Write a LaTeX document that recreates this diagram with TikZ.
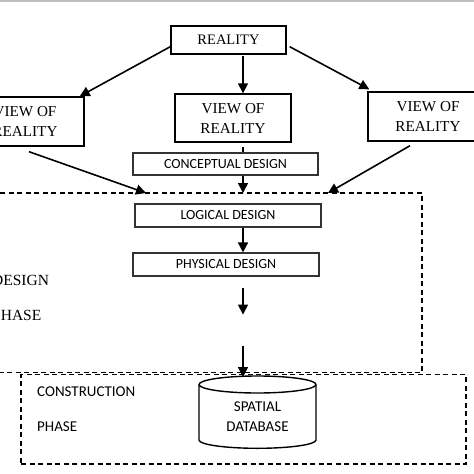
\documentclass[tikz,border=0pt]{standalone}
\usepackage{fontspec}
\setmainfont{Liberation Serif}
\newfontfamily\sansf{Carlito}
\usetikzlibrary{arrows.meta,calc}
\begin{document}
\begin{tikzpicture}[x=1pt,y=-1pt,
  box/.style={draw,line width=1.4pt,inner sep=0pt},
  serifbox/.style={box,font=\fontsize{15.2}{20}\selectfont,align=center},
  sansbox/.style={draw=black!80,line width=1.1pt,inner sep=0pt,font=\sansf\fontsize{14}{16}\selectfont},
  dashbox/.style={draw,line width=1.3pt,dash pattern=on 5pt off 3.5pt,inner sep=0pt,outer sep=0pt},
  arr/.style={line width=1.6pt,-{Triangle[length=10pt,width=10pt]}},
  plainline/.style={line width=1.6pt},
  serlabel/.style={font=\fontsize{15.5}{18}\selectfont,anchor=west,inner sep=0pt},
  sanslabel/.style={font=\sansf\fontsize{15}{20}\selectfont,inner sep=0pt}]
\useasboundingbox (0,0) rectangle (474,474);
\clip (0,0) rectangle (474,474);
\fill[black!25] (0,0) rectangle (474,1.8);

% boxes
\node[box,font=\fontsize{14.5}{18}\selectfont,minimum width=115pt,minimum height=28pt,text depth=-1pt] (reality) at (228.5,40) {REALITY};
\node[serifbox,minimum width=118pt,minimum height=49pt] (lview) at (25,121.5) {VIEW OF\\REALITY};
\node[serifbox,minimum width=116pt,minimum height=48pt] (cview) at (233,118) {VIEW OF\\REALITY};
\node[serifbox,minimum width=120pt,minimum height=49pt] (rview) at (428,116.5) {VIEW OF\\REALITY};
\node[sansbox,minimum width=185pt,minimum height=22pt] (concept) at (225.5,164) {CONCEPTUAL DESIGN};
\node[sansbox,minimum width=186pt,minimum height=23pt] (logical) at (228,215.5) {LOGICAL DESIGN};
\node[sansbox,minimum width=186pt,minimum height=23pt] (physical) at (226,264.5) {PHYSICAL DESIGN};

% phase boxes
\node[dashbox,minimum width=432pt,minimum height=179.5pt] (design) at (206,282.75) {};
\node[dashbox,minimum width=445pt,minimum height=89.5pt] (construct) at (243.5,419.25) {};

% cylinder
\draw[line width=1.4pt] (199,384.5) -- (199,440)
  arc[start angle=180,end angle=0,x radius=58.5,y radius=8.3] -- (316,384.5)
  arc[start angle=0,end angle=-180,x radius=58.5,y radius=8.5] -- cycle;
\draw[line width=1.4pt] (199,384.5) arc[start angle=180,end angle=0,x radius=58.5,y radius=8.5];
\node[sanslabel,align=center] (db) at (257.5,417) {SPATIAL\\DATABASE};

% labels
\node[serlabel] (dlab) at (-8,280) {DESIGN};
\node[serlabel] (plab) at (-8,315) {PHASE};
\node[sanslabel,anchor=west] (clab) at (37,392) {CONSTRUCTION};
\node[sanslabel,anchor=west] (cplab) at (37,427) {PHASE};

% connectors
\draw[arr] ($(reality.south west)+(0,-8)$) -- ($(lview.north east)+(-5,0)$);
\draw[arr] ($(reality.south)+(14.5,1)$) -- ($(cview.north)+(10,0)$);
\draw[arr] ($(reality.south east)+(3,-8)$) -- ($(rview.north west)+(2,-2)$);
\draw[arr] ($(lview.south)+(4,5)$) -- ($(design.north west)+(156,0)$);
\draw[plainline] ($(cview.south)+(10,4)$) -- ($(concept.north)+(17.5,0)$);
\draw[arr] ($(concept.south)+(17.5,0)$) -- ($(design.north west)+(253,0)$);
\draw[arr] ($(rview.south)+(-18,4)$) -- ($(design.north west)+(338,0)$);
\draw[arr] ($(logical.south)+(15,0)$) -- ($(physical.north)+(17,0)$);
\draw[arr] ($(physical.south)+(17,11)$) -- ($(physical.south)+(17,38)$);
\draw[arr] ($(design.south west)+(253,-27)$) -- ($(db)+(-14.5,-40)$);
\end{tikzpicture}
\end{document}
